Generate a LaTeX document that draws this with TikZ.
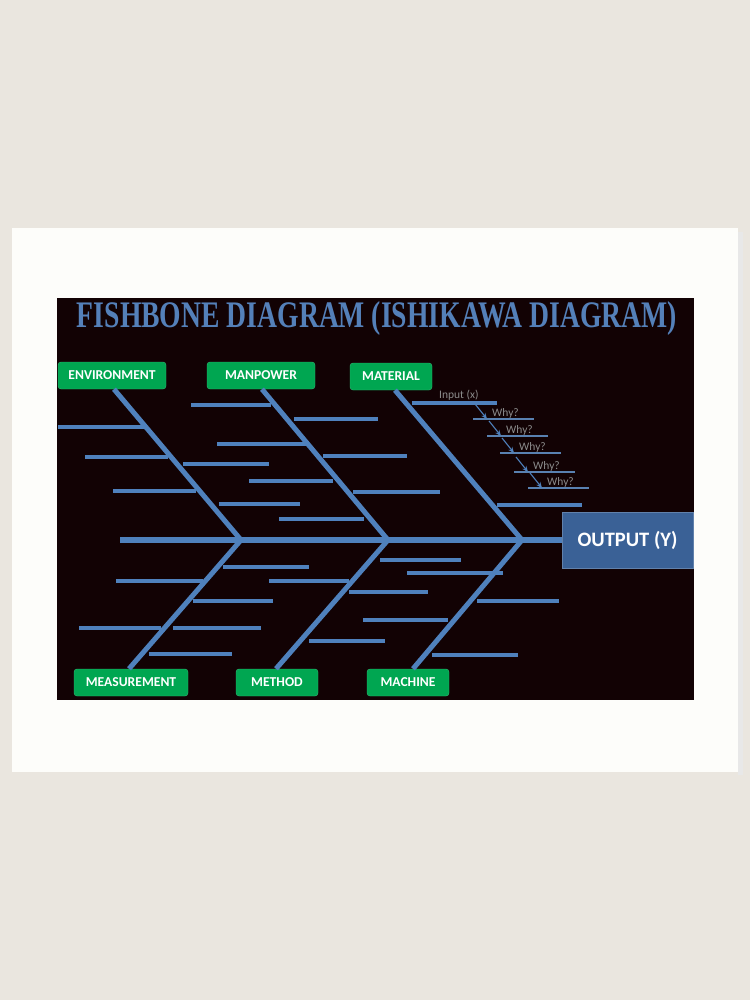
\documentclass[tikz,border=0pt]{standalone}
\usepackage{fontspec}
\setmainfont{Carlito}
\newfontfamily\titlefont{Liberation Serif}
\usetikzlibrary{arrows.meta,positioning}
\definecolor{wall}{RGB}{234,230,223}
\definecolor{paper}{RGB}{253,253,250}
\definecolor{board}{RGB}{18,2,4}
\definecolor{bone_blue}{RGB}{79,129,189}
\definecolor{title_blue}{RGB}{84,128,185}
\definecolor{cause_green}{RGB}{0,166,81}
\definecolor{out_blue}{RGB}{58,97,150}
\definecolor{why_gray}{RGB}{140,140,140}

\begin{document}
\begin{tikzpicture}[
      x=1pt,y=-1pt,
      causebox/.style={
         rectangle,
         rounded corners=3pt,
         draw=cause_green!80!white,
         fill=cause_green,
         text=white,
         inner sep=0pt,
         minimum height=27pt,
         font=\bfseries\fontsize{13.6}{13.6}\selectfont},
      outbox/.style={
         rectangle,
         draw=out_blue!80!white,
         fill=out_blue,
         text=white,
         inner sep=0pt,
         minimum width=131pt,
         minimum height=56pt,
         font=\bfseries\fontsize{20.5}{20.5}\selectfont},
      bone/.style={
         draw=bone_blue,
         line width=5pt},
      rib/.style={
         draw=bone_blue,
         line width=3.5pt},
      whyline/.style={
         draw=bone_blue!80!gray,
         line width=1.6pt},
      whyarrow/.style={
        -{Stealth[length=6pt,width=5pt]},
        draw=bone_blue,
        line width=1.1pt},
      whytext/.style={
         text=why_gray,
         inner sep=0pt,
         anchor=base west,
         font=\fontsize{11.5}{11.5}\selectfont},
      ]
      \useasboundingbox (0,0) rectangle (750,1000);
      % print on the wall
      \fill[wall] (0,0) rectangle (750,1000);
      \fill[black!9] (738,232) rectangle (743,775);
      \fill[paper] (12,228) rectangle (738,772);
      \fill[board] (57,298) rectangle (694,700);

      % title
      \node[anchor=base,inner sep=0pt,text=title_blue] (title) at (377,327)
        {\resizebox{600pt}{26pt}{\titlefont\bfseries FISHBONE DIAGRAM (ISHIKAWA DIAGRAM)}};

      % causes
      \node[causebox,minimum width=108pt] (env) at (112,375.5) {ENVIRONMENT};
      \node[causebox,minimum width=108pt] (man) at (261,375.5) {MANPOWER};
      \node[causebox,minimum width=82pt] (mat) at (391,376.5) {MATERIAL};
      \node[causebox,minimum width=114pt] (mea) at (131,682.5) {MEASUREMENT};
      \node[causebox,minimum width=82pt] (met) at (277,682.5) {METHOD};
      \node[causebox,minimum width=82pt] (mac) at (408,682.5) {MACHINE};
      % effect
      \node[outbox] (out) at (627.5,540) {OUTPUT (Y)};

      \coordinate (tail) at (120,540);
      \coordinate (j1) at (241,540);
      \coordinate (j2) at (388,540);
      \coordinate (j3) at (522,540);

    % spine
    \draw[bone,line width=6pt] (tail) -- (out.west);

    \foreach \i/\s/\j in {% cause/shift/junction
      env.south/2/j1,
      man.south/1/j2,
      mat.south/4/j3,
      mea.north/-2/j1,
      met.north/-1/j2,
      mac.north/5/j3}
      \draw[bone] ([xshift=\s pt]\i) -- (\j);

    \foreach \y/\a/\b in {% height/left end/right end
      427/58/145, 457/85/168, 464/183/269, 491/113/196, 504/219/300,
      405/191/271, 419/294/378, 444/217/306, 456/323/407, 481/249/333,
      492/353/440, 519/279/364, 403/412/497, 505/497/582,
      567/223/309, 581/116/203, 581/269/349, 601/193/273,
      560/380/461, 573/407/503, 592/349/428, 601/477/559,
      620/363/448, 641/309/385, 655/432/518,
      628/79/161, 628/173/261, 654/149/232}
      \draw[rib] (\a,\y) -- (\b,\y);

    % five whys
    \node[whytext] (inp) at (439,398) {Input (x)};
    \foreach \n/\y/\a in {1/419/473, 2/436/487, 3/453/500, 4/472/514, 5/488/528} {
      \draw[whyline] (\a,\y) -- ++(61,0);
      \node[whytext] (why\n) at (\a+19,\y-3) {Why?};
      \coordinate (ws\n) at (\a+2,\y-15);
      \coordinate (we\n) at (\a+14,\y);
      \draw[whyarrow] (ws\n) -- (we\n);
    }
    \end{tikzpicture}
\end{document}
